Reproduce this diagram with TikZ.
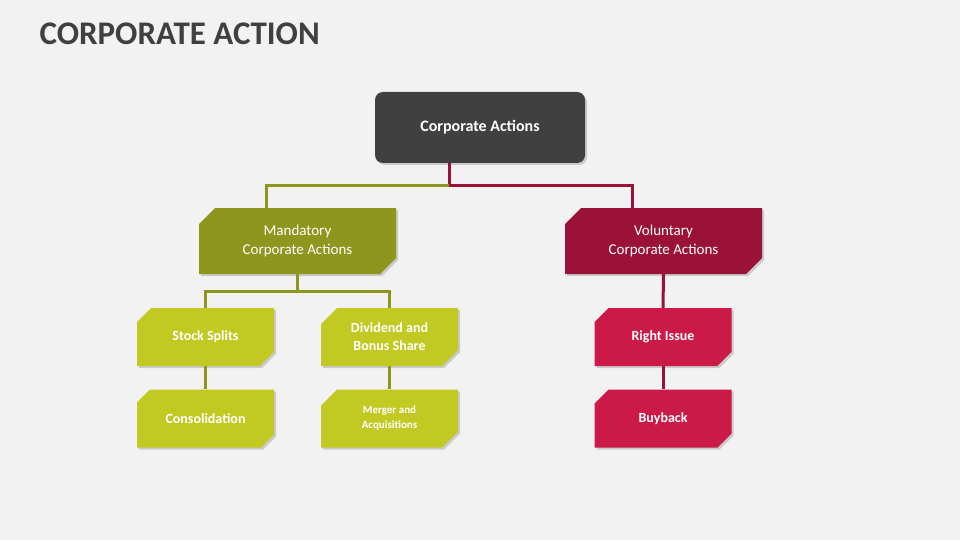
\documentclass[tikz,border=0pt]{standalone}
\usepackage{fontspec}
\setmainfont{Carlito}
\usetikzlibrary{shapes.misc,shadows}
\definecolor{bg}{HTML}{F2F2F2}
\definecolor{dark}{HTML}{404040}
\definecolor{olive}{HTML}{8F961E}
\definecolor{lime}{HTML}{C2C923}
\definecolor{wine}{HTML}{9B1238}
\definecolor{rose}{HTML}{CC1A48}
\begin{document}
\begin{tikzpicture}[x=1pt,y=-1pt,
  cbox/.style={chamfered rectangle,chamfered rectangle corners={north west,south east},chamfered rectangle xsep=8pt,chamfered rectangle ysep=8pt,inner sep=0pt,text=white,align=center,font=\bfseries\fontsize{14}{18}\selectfont,drop shadow={shadow xshift=2pt,shadow yshift=-2pt,opacity=0.35}},
  lnk/.style={line width=3pt}]
\fill[bg] (0,0) rectangle (960,540);
\node[anchor=west,text=dark,font=\bfseries\fontsize{33}{36}\selectfont] (title) at (36,34) {CORPORATE ACTION};
\node[rounded corners=8pt,fill=dark,minimum width=210pt,minimum height=71pt,text=white,font=\bfseries\fontsize{16}{20}\selectfont,drop shadow={shadow xshift=2pt,shadow yshift=-2pt,opacity=0.35}] (top) at (480,127.5) {Corporate Actions};
\node[cbox,fill=olive,minimum width=197pt,minimum height=66pt,font=\fontsize{15}{19}\selectfont] (man) at (297.5,241) {Mandatory\\Corporate Actions};
\node[cbox,fill=wine,minimum width=197pt,minimum height=66pt,font=\fontsize{15}{19}\selectfont] (vol) at (663.5,241) {Voluntary\\Corporate Actions};
\tikzset{small/.style={cbox,minimum width=137pt,minimum height=58pt}}
\node[small,fill=lime] (ss) at (205.5,337) {Stock Splits};
\node[small,fill=lime] (div) at (389.5,337) {Dividend and\\Bonus Share};
\node[small,fill=lime] (con) at (205.5,418.5) {Consolidation};
\node[small,fill=lime,font=\bfseries\fontsize{11}{15}\selectfont] (mer) at (389.5,418.5) {Merger and\\Acquisitions};
\node[small,fill=rose] (ri) at (663,337) {Right Issue};
\node[small,fill=rose] (bb) at (663,418.5) {Buyback};
\coordinate (j) at (449,185);
\coordinate (vt) at (632,208);
\coordinate (mt) at (266,208);
\coordinate (k) at (297,291);
\draw[lnk,wine] (449,163) -- (j) -| (vt);
\draw[lnk,olive] (j) -| (mt);
\draw[lnk,olive] (man.south -| k) -- (k) -| (ss.north);
\draw[lnk,olive] (k) -| (div.north);
\draw[lnk,olive] (ss.south) -- (con.north);
\draw[lnk,olive] (div.south) -- (mer.north);
\draw[lnk,wine] (vol.south) -- (ri.north);
\draw[lnk,wine] (ri.south) -- (bb.north);
\end{tikzpicture}
\end{document}
